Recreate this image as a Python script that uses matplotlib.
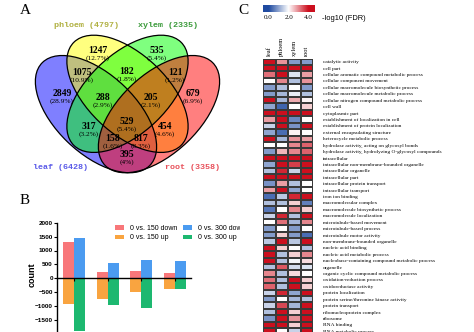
import numpy as np
import matplotlib
matplotlib.use('Agg')
import matplotlib.pyplot as plt
from matplotlib.patches import Ellipse, Rectangle
from matplotlib.colors import LinearSegmentedColormap

W, H = 474, 332
fig = plt.figure(figsize=(W / 100, H / 100), dpi=100)
fig.patch.set_facecolor('white')

SERIF = 'Liberation Serif'
MONO = 'Liberation Mono'
SANS = 'Liberation Sans'


def px_axes(x0, y0, x1, y1, **kw):
    return fig.add_axes([x0 / W, 1 - y1 / H, (x1 - x0) / W, (y1 - y0) / H], **kw)


def fig_text(px, py, s, **kw):
    fig.text(px / W, 1 - py / H, s, **kw)


# ---------------- data ----------------
venn_sets = ['leaf', 'phloem', 'xylem', 'root']
venn_totals = [6428, 4797, 2335, 3358]
venn_counts = [1247, 535, 1075, 182, 121, 2849, 288, 205, 679, 529, 317, 454, 158, 817, 395]
venn_pcts = ['12.7%', '5.4%', '10.9%', '1.8%', '1.2%', '28.9%', '2.9%', '2.1%',
             '6.9%', '5.4%', '3.2%', '4.6%', '1.6%', '8.3%', '4%']

bar_series = ['0 vs. 150 down', '0 vs. 150 up', '0 vs. 300 down', '0 vs. 300 up']
down150 = [1300, 210, 270, 190]
up150 = [-920, -760, -480, -400]
down300 = [1440, 560, 660, 630]
up300 = [-1880, -960, -1080, -390]
bar_yticks = [-1500, -1000, -500, 0, 500, 1000, 1500, 2000]

heat_cols = ['leaf', 'phloem', 'xylem', 'root']
heat_terms = [
    'catalytic activity', 'cell part', 'cellular aromatic compound metabolic process',
    'cellular component movement', 'cellular macromolecule biosynthetic process',
    'cellular macromolecule metabolic process', 'cellular nitrogen compound metabolic process',
    'cell wall', 'cytoplasmic part', 'establishment of localization in cell',
    'establishment of protein localization', 'external encapsulating structure',
    'heterocycle metabolic process', 'hydrolase activity, acting on glycosyl bonds',
    'hydrolase activity, hydrolyzing O-glycosyl compounds', 'intracellular',
    'intracellular non-membrane-bounded organelle', 'intracellular organelle',
    'intracellular part', 'intracellular protein transport', 'intracellular transport',
    'iron ion binding', 'macromolecular complex', 'macromolecule biosynthetic process',
    'macromolecule localization', 'microtubule-based movement', 'microtubule-based process',
    'microtubule motor activity', 'non-membrane-bounded organelle', 'nucleic acid binding',
    'nucleic acid metabolic process', 'nucleobase-containing compound metabolic process',
    'organelle', 'organic cyclic compound metabolic process', 'oxidation-reduction process',
    'oxidoreductase activity', 'protein localization', 'protein serine/threonine kinase activity',
    'protein transport', 'ribonucleoprotein complex', 'ribosome', 'RNA binding',
    'RNA metabolic process']
heat_leaf = [4, 4, 3.2, 2.0, 0.9, 0.9, 4, 1.0, 4, 2.8, 1.5, 1.0, 4, 2.0, 0.9, 4, 1.0, 1.3,
             4, 0.8, 2.8, 0.4, 1.3, 0.5, 1.5, 2.0, 0.9, 0.9, 1.4, 4, 4, 4, 1.3, 3.0, 3.2,
             3.3, 1.5, 0.9, 1.5, 1.3, 0.8, 4, 4]
heat_phloem = [2.9, 4, 4, 3.0, 1.3, 1.2, 1.2, 0.3, 4, 4, 4, 0.4, 1.2, 2.0, 2.6, 4, 4, 3.8,
               4, 2.8, 4, 1.4, 1.3, 2.0, 3.8, 3.2, 2.0, 2.4, 4, 2.4, 1.3, 1.3, 3.4, 1.3, 1.3,
               1.3, 3.8, 2.0, 3.5, 4, 4, 4, 2.0]
heat_xylem = [0.9, 4, 1.7, 1.3, 2.0, 1.8, 2.7, 2.0, 4, 0.7, 0.8, 2.1, 2.9, 3.0, 3.0, 4, 3.6,
              1.5, 4, 1.3, 1.0, 3.8, 2.4, 3.0, 1.3, 1.2, 0.9, 0.9, 1.4, 2.0, 2.4, 1.9, 1.6,
              2.3, 4, 4, 1.0, 1.2, 1.2, 2.4, 2.9, 2.4, 1.5]
heat_root = [0.9, 4, 2.8, 2.9, 0.9, 1.3, 2.1, 2.4, 4, 2.0, 4, 2.0, 2.8, 3.3, 3.3, 4, 4, 4,
             4, 2.0, 2.0, 4, 0.6, 2.4, 4, 3.0, 2.0, 0.4, 4, 1.3, 3.0, 2.3, 1.7, 2.0, 2.4,
             2.4, 4, 1.3, 4, 4, 4, 4, 4]
cbar_ticks = [0.0, 2.0, 4.0]

# ---------------- Panel A: Venn ----------------
axA = px_axes(0, 0, 240, 185)
axA.set_xlim(-0.107, 1.0357)
axA.set_ylim(0.121, 1.032)
axA.axis('off')


def ax_x(px):
    return 0.5 + (px - 127.5) / 210


def ax_y(py):
    return 0.855 - (py - 36) / 203


centers = [(0.35, 0.47), (0.5, 0.57), (0.5, 0.57), (0.65, 0.47)]
angles = [-45, -45, 45, 45]
fills = ['blue', 'yellow', 'lime', 'red']
EW, EH = 0.72, 0.385
for (cx, cy), ang, col in zip(centers, angles, fills):
    axA.add_patch(Ellipse((cx, cy), EW, EH, angle=ang, facecolor=col, alpha=0.5,
                          edgecolor='none'))
for (cx, cy), ang in zip(centers, angles):
    axA.add_patch(Ellipse((cx, cy), EW, EH, angle=ang, fill=False, edgecolor='black',
                          lw=0.9))

region_pos = [(98, 51), (157, 51), (82, 73), (127, 72), (175, 73), (62, 94), (103, 98),
              (151, 98), (193, 94), (127, 122), (89, 127), (165, 127), (113, 139),
              (141, 139), (127, 155)]
for n, p, (px, py) in zip(venn_counts, venn_pcts, region_pos):
    axA.text(ax_x(px), ax_y(py), str(n), ha='center', va='center', fontsize=7,
             fontweight='bold', family=SERIF)
    axA.text(ax_x(px), ax_y(py + 7.5), '(' + p + ')', ha='center', va='center',
             fontsize=5.3, family=SERIF)

label_pos = [(61, 168), (87, 26), (168, 26), (193, 168)]
label_cols = ['#5a5ae8', '#b0b040', '#3a9a3a', '#e8505a']
for name, tot, (px, py), col in zip(venn_sets, venn_totals, label_pos, label_cols):
    axA.text(ax_x(px), ax_y(py), f'{name} ({tot})', ha='center', va='center',
             fontsize=6, fontweight='bold', family=MONO, color=col)

fig_text(25, 11, 'A', fontsize=11, family=SERIF, ha='center', va='center')
fig_text(25, 200, 'B', fontsize=11, family=SERIF, ha='center', va='center')
fig_text(238, 10, 'C', fontsize=11, family=SERIF, ha='left', va='center')

# ---------------- Panel B: bars ----------------
axB = px_axes(57, 222.7, 191, 333.9)
x = np.arange(len(down150))
bw = 0.326
c_red, c_orange, c_blue, c_green = '#F8777A', '#F9A440', '#4B9BF0', '#1DB870'
b1 = axB.bar(x - bw / 2, down150, bw, color=c_red, label=bar_series[0])
b2 = axB.bar(x - bw / 2, up150, bw, color=c_orange, label=bar_series[1])
b3 = axB.bar(x + bw / 2, down300, bw, color=c_blue, label=bar_series[2])
b4 = axB.bar(x + bw / 2, up300, bw, color=c_green, label=bar_series[3])
axB.set_xlim(-0.504, 3.475)
axB.set_ylim(-2000, 2000)
axB.spines['top'].set_visible(False)
axB.spines['right'].set_visible(False)
axB.spines['bottom'].set_position(('data', 0))
axB.spines['bottom'].set_linewidth(1.0)
axB.spines['left'].set_linewidth(1.0)
axB.set_xticks(x)
axB.set_xticklabels([])
axB.tick_params(axis='x', direction='out', length=2.5, width=0.8)
axB.set_yticks(bar_yticks)
axB.tick_params(axis='y', direction='out', length=2, width=0.8, pad=1, labelsize=4.6)
for t in axB.get_yticklabels():
    t.set_fontweight('bold')
    t.set_family(SANS)
axB.set_facecolor('none')
fig_text(32, 275, 'count', rotation=90, ha='center', va='center', fontsize=6.5,
         fontweight='bold', family=SANS)

leg = axB.legend(handles=[b1, b2, b3, b4], labels=bar_series,
                 ncol=2, frameon=False, prop={'family': SANS, 'size': 5},
                 handlelength=1.3, handleheight=0.7, handletextpad=0.85,
                 columnspacing=0.8, labelspacing=0.42, borderpad=0, borderaxespad=0,
                 loc='upper left',
                 bbox_to_anchor=((115 - 57) / 134, 1 - (224.5 - 222.7) / 111.2))

# white mask to cut off legend at the panel boundary
fig.add_artist(Rectangle((240 / W, 1 - 250 / H), 22 / W, 40 / H, transform=fig.transFigure,
                         facecolor='white', edgecolor='none', zorder=5))

# ---------------- Panel C: heatmap ----------------
cmap = LinearSegmentedColormap.from_list('bwr2', ['#1f4aa0', '#ffffff', '#cc0f1e'])
mat = np.array([heat_leaf, heat_phloem, heat_xylem, heat_root]).T
nrow = len(heat_terms)
rh = 6.42
axC = px_axes(263, 58.5, 313, 58.5 + nrow * rh)
axC.set_zorder(6)
axC.pcolormesh(np.arange(5), np.arange(nrow + 1), mat, cmap=cmap, vmin=0, vmax=4,
               edgecolors='#3a3a3a', linewidth=0.35)
axC.set_xlim(0, 4)
axC.set_ylim(nrow, 0)
for s in axC.spines.values():
    s.set_visible(False)
axC.set_xticks([])
axC.yaxis.tick_right()
axC.set_yticks(np.arange(nrow) + 0.5)
axC.set_yticklabels(heat_terms, family=SERIF, fontsize=3.9)
axC.tick_params(axis='y', length=0, pad=7)
for i, c in enumerate(heat_cols):
    axC.text(i + 0.5, -0.35, c, rotation=90, ha='center', va='bottom', fontsize=4.6,
             family=SERIF)

# colorbar
axCB = px_axes(263, 5, 315, 11.7)
axCB.set_zorder(6)
grad = np.linspace(-0.56, 4.64, 200)[None, :]
axCB.imshow(grad, cmap=cmap, vmin=0, vmax=4, aspect='auto', extent=(-0.56, 4.64, 0, 1))
axCB.set_xlim(-0.56, 4.64)
axCB.set_yticks([])
axCB.set_xticks(cbar_ticks)
axCB.set_xticklabels([f'{v:.1f}' for v in cbar_ticks], family=SERIF, fontsize=5)
axCB.tick_params(axis='x', length=0, pad=2.5)
for s in axCB.spines.values():
    s.set_visible(False)
fig_text(322, 19, '-log10 (FDR)', fontsize=5.4, family=SANS, ha='left', va='center')

fig.savefig('out.png', dpi=100, facecolor='white')
